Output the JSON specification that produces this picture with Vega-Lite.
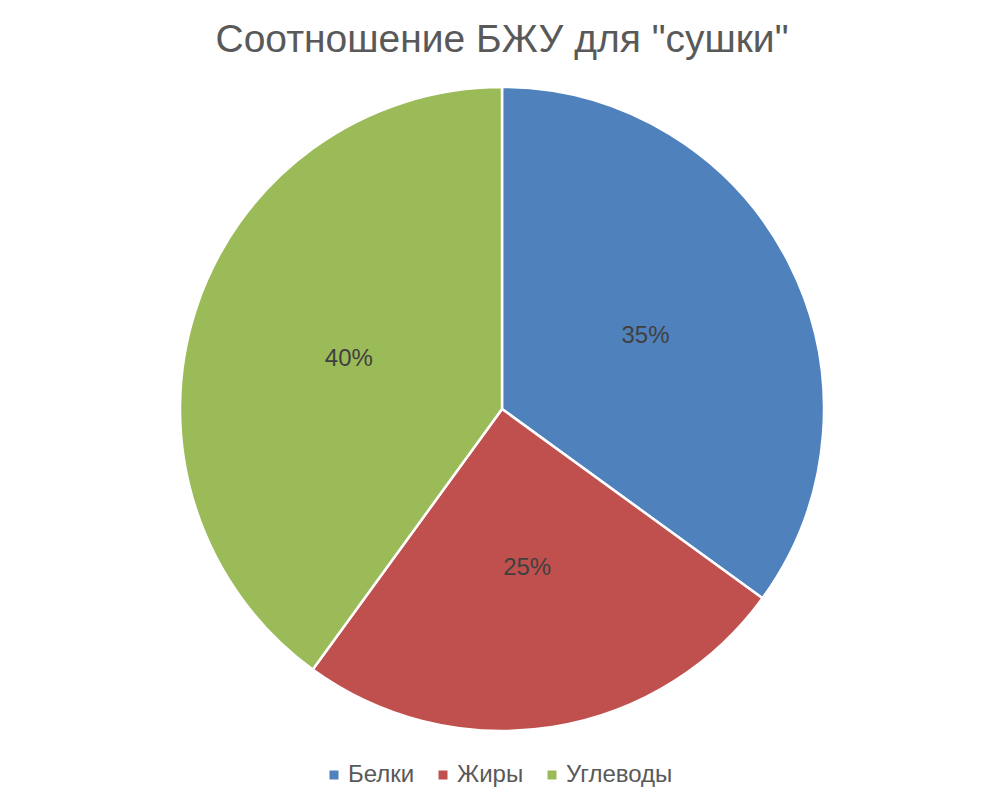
{
  "$schema": "https://vega.github.io/schema/vega-lite/v6.json",
  "width": 1004,
  "height": 658,
  "autosize": {"type": "none"},
  "padding": {"top": 80, "left": 0, "right": 1, "bottom": 69},
  "background": "white",
  "title": {
    "text": "Соотношение БЖУ для \"сушки\"",
    "font": "Liberation Sans",
    "fontSize": 39,
    "fontWeight": "normal",
    "color": "#595959",
    "anchor": "middle",
    "offset": 20
  },
  "config": {"view": {"stroke": null}},
  "data": {
    "values": [
      {"name": "Белки", "value": 35, "label": "35%", "ord": 1},
      {"name": "Жиры", "value": 25, "label": "25%", "ord": 2},
      {"name": "Углеводы", "value": 40, "label": "40%", "ord": 3}
    ]
  },
  "encoding": {
    "theta": {"field": "value", "type": "quantitative", "stack": true},
    "order": {"field": "ord", "type": "quantitative"},
    "color": {
      "field": "name",
      "type": "nominal",
      "sort": ["Белки", "Жиры", "Углеводы"],
      "scale": {"domain": ["Белки", "Жиры", "Углеводы"], "range": ["#4F81BD", "#C0504D", "#9BBB59"]},
      "legend": {
        "title": null,
        "orient": "none",
        "legendX": 322,
        "legendY": 683,
        "direction": "horizontal",
        "symbolType": "square",
        "symbolSize": 81,
        "symbolStrokeWidth": 0,
        "labelFont": "Liberation Sans",
        "labelFontSize": 24,
        "labelColor": "#595959",
        "labelOffset": 2,
        "columnPadding": 16
      }
    }
  },
  "layer": [
    {"mark": {"type": "arc", "radius": 322, "stroke": "white", "strokeWidth": 2.5}},
    {
      "mark": {"type": "text", "radius": 161, "font": "Liberation Sans", "fontSize": 24, "fill": "#404040"},
      "encoding": {"text": {"field": "label"}, "color": {"value": "#404040"}}
    }
  ]
}
